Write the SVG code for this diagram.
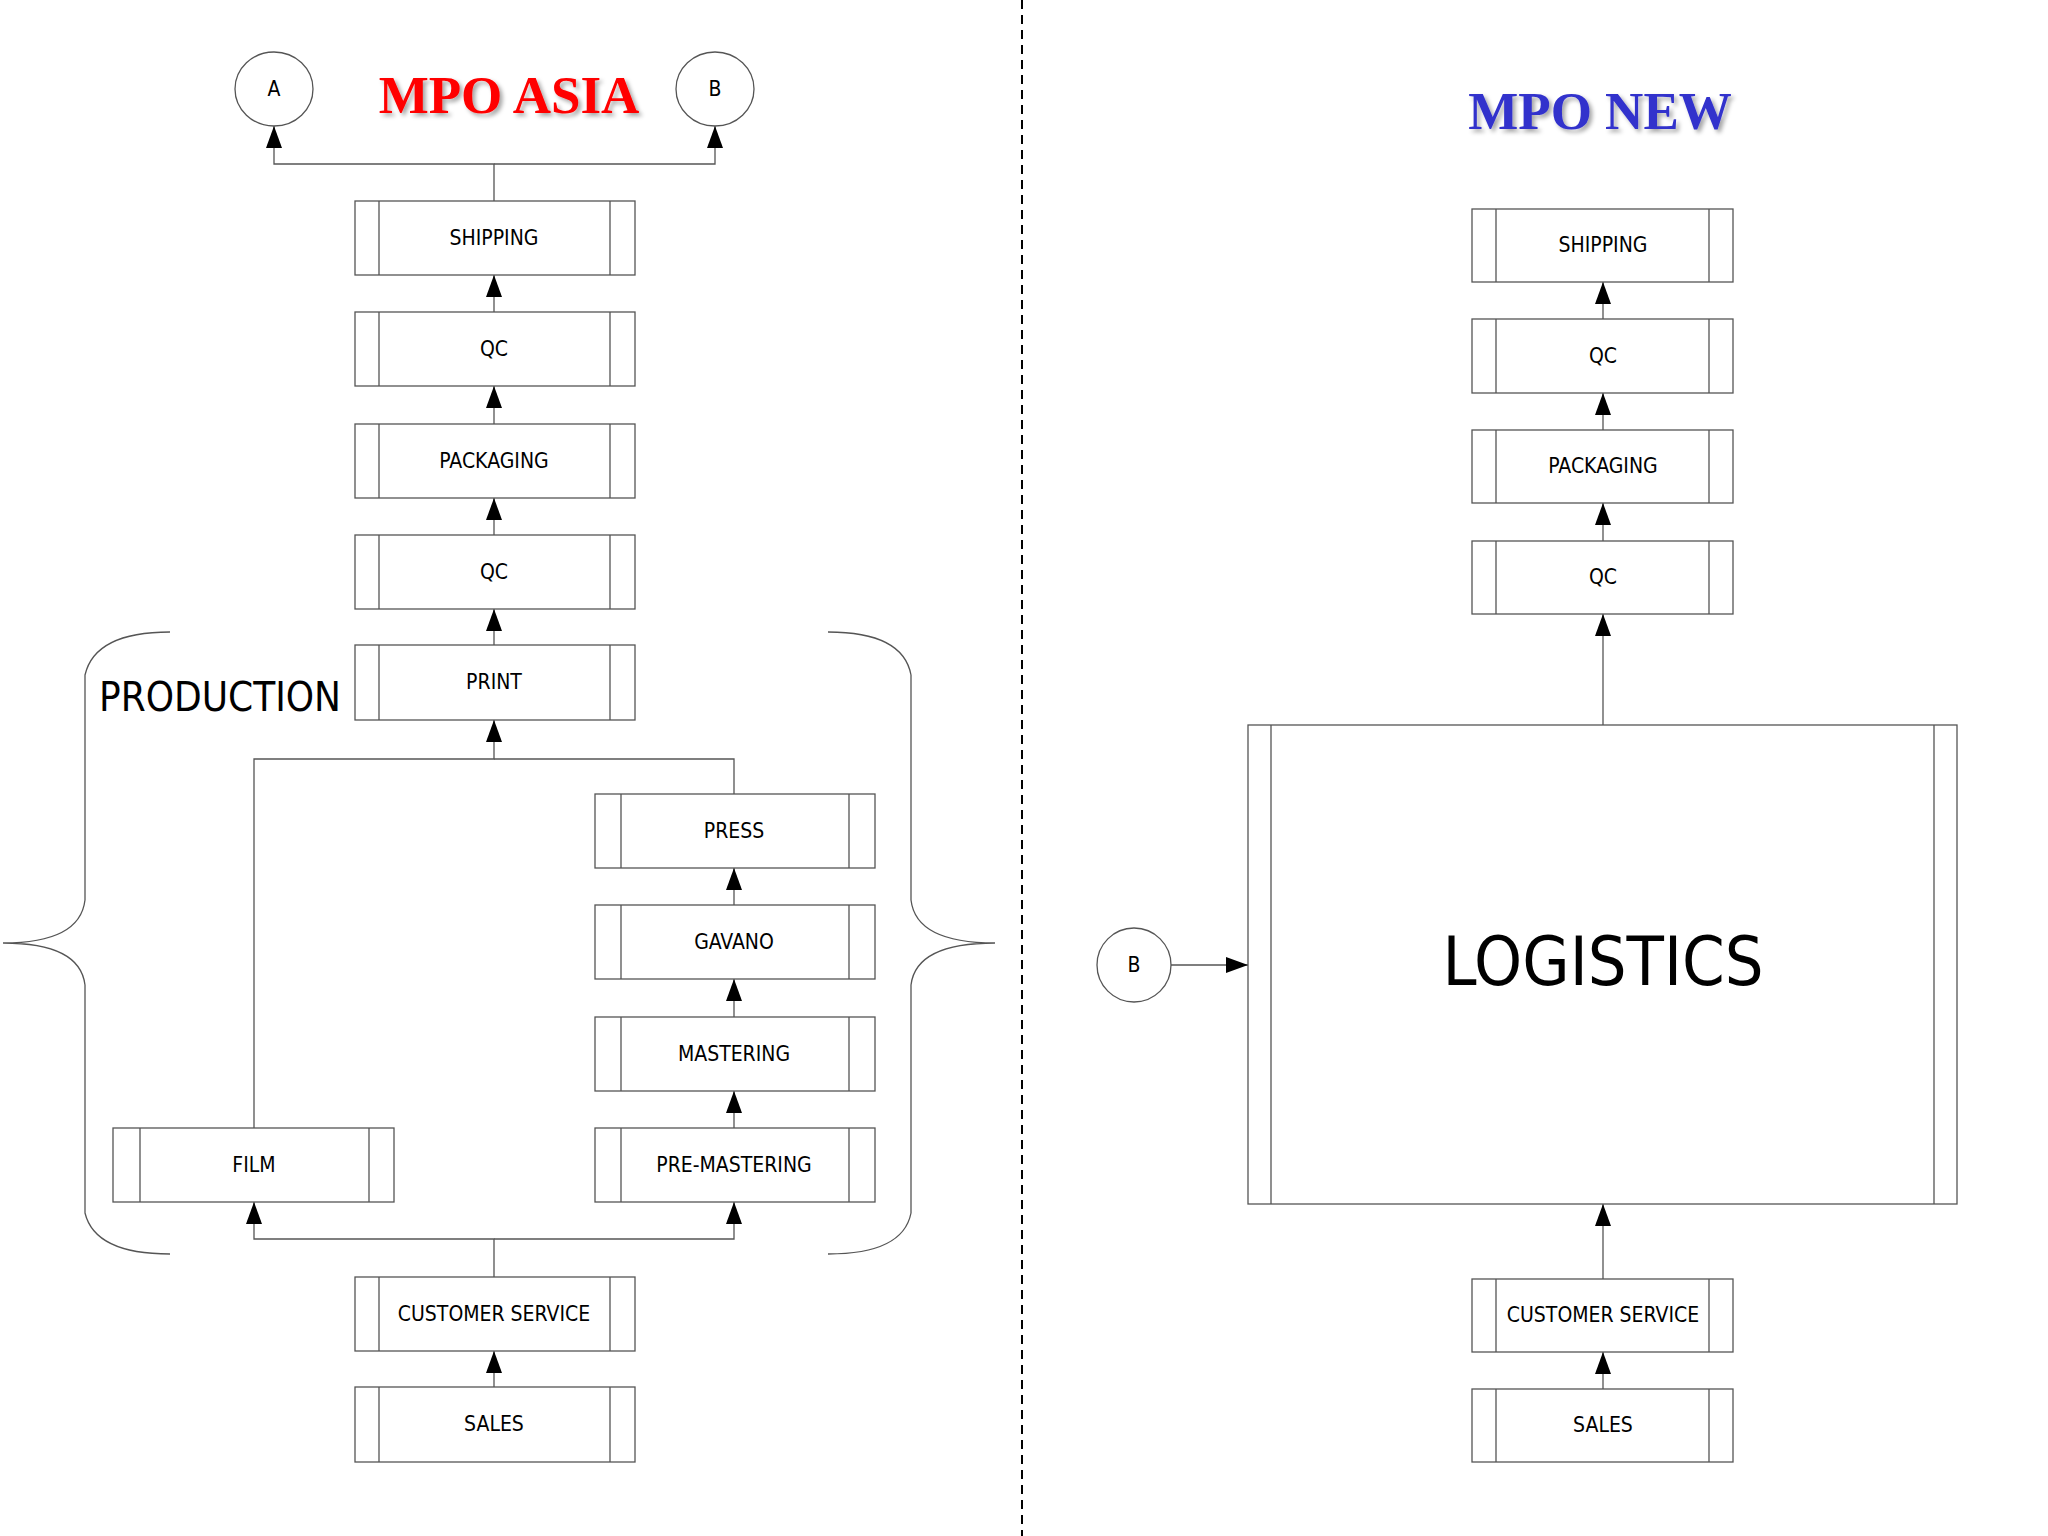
<svg xmlns="http://www.w3.org/2000/svg" width="2048" height="1536" viewBox="0 0 2048 1536">
<style>
.b{fill:#fff;stroke:#555;stroke-width:1.3}
.i{stroke:#555;stroke-width:1.3}
.t{font-family:"DejaVu Sans Condensed","Liberation Sans",sans-serif;font-size:21px;text-anchor:middle;fill:#000}
.c{fill:none;stroke:#555;stroke-width:1.3}
.title{font-family:"Liberation Serif",serif;font-weight:bold;font-size:53px;text-anchor:middle}
</style>
<defs>
<marker id="ar" markerWidth="22" markerHeight="16" refX="22" refY="8" orient="auto" markerUnits="userSpaceOnUse" viewBox="0 0 22 16">
<path d="M0,0 L22,8 L0,16 Z" fill="#000"/></marker>
<filter id="sh" x="-10%" y="-20%" width="130%" height="150%"><feDropShadow dx="3" dy="3" stdDeviation="2" flood-color="#000" flood-opacity="0.35"/></filter>
</defs>
<rect width="2048" height="1536" fill="#fff"/>
<line x1="1022" y1="0" x2="1022" y2="1536" stroke="#000" stroke-width="2" stroke-dasharray="9,6"/>
<text class="title" x="509" y="113" fill="#ff0000" filter="url(#sh)">MPO ASIA</text>
<text class="title" x="1600" y="129" fill="#3333cc" filter="url(#sh)">MPO NEW</text>
<text x="99" y="711" font-family="DejaVu Sans Condensed,Liberation Sans,sans-serif" font-size="40">PRODUCTION</text>
<g id="braces" class="c">
<path d="M170,632 Q95,632 85,675 L85,900 Q80,943 3,943 Q80,943 85,985 L85,1213 Q95,1254 170,1254"/>
<path d="M828,632 Q903,632 911,675 L911,900 Q916,943 995,943 Q916,943 911,985 L911,1213 Q903,1254 828,1254"/>
</g>
<g id="connectors" class="c">
<path d="M494,201 V164 H274 V126" marker-end="url(#ar)"/>
<path d="M494,164 H715 V126" marker-end="url(#ar)"/>
<path d="M494,312 V275" marker-end="url(#ar)"/>
<path d="M494,424 V386" marker-end="url(#ar)"/>
<path d="M494,535 V498" marker-end="url(#ar)"/>
<path d="M494,645 V609" marker-end="url(#ar)"/>
<path d="M254,1128 V759 H494 V720" marker-end="url(#ar)"/>
<path d="M734,794 V759 H494"/>
<path d="M734,905 V868" marker-end="url(#ar)"/>
<path d="M734,1017 V979" marker-end="url(#ar)"/>
<path d="M734,1128 V1091" marker-end="url(#ar)"/>
<path d="M494,1277 V1239 H254 V1202" marker-end="url(#ar)"/>
<path d="M494,1239 H734 V1202" marker-end="url(#ar)"/>
<path d="M494,1387 V1351" marker-end="url(#ar)"/>
<path d="M1603,319 V282" marker-end="url(#ar)"/>
<path d="M1603,430 V393" marker-end="url(#ar)"/>
<path d="M1603,541 V503" marker-end="url(#ar)"/>
<path d="M1603,725 V614" marker-end="url(#ar)"/>
<path d="M1603,1279 V1204" marker-end="url(#ar)"/>
<path d="M1603,1389 V1352" marker-end="url(#ar)"/>
<path d="M1171,965 H1248" marker-end="url(#ar)"/>
</g>
<g id="A"><ellipse class="b" cx="274" cy="89" rx="39" ry="37"/><text class="t" x="274" y="96">A</text></g>
<g id="B1"><ellipse class="b" cx="715" cy="89" rx="39" ry="37"/><text class="t" x="715" y="96">B</text></g>
<g id="B2"><ellipse class="b" cx="1134" cy="965" rx="37" ry="37"/><text class="t" x="1134" y="972">B</text></g>
<g id="shipping1"><rect class="b" x="355" y="201" width="280" height="74"/><path class="i" d="M379,201V275M610,201V275"/><text class="t" x="494" y="245">SHIPPING</text></g>
<g id="qc1a"><rect class="b" x="355" y="312" width="280" height="74"/><path class="i" d="M379,312V386M610,312V386"/><text class="t" x="494" y="356">QC</text></g>
<g id="packaging1"><rect class="b" x="355" y="424" width="280" height="74"/><path class="i" d="M379,424V498M610,424V498"/><text class="t" x="494" y="468">PACKAGING</text></g>
<g id="qc1b"><rect class="b" x="355" y="535" width="280" height="74"/><path class="i" d="M379,535V609M610,535V609"/><text class="t" x="494" y="579">QC</text></g>
<g id="print"><rect class="b" x="355" y="645" width="280" height="75"/><path class="i" d="M379,645V720M610,645V720"/><text class="t" x="494" y="689">PRINT</text></g>
<g id="press"><rect class="b" x="595" y="794" width="280" height="74"/><path class="i" d="M621,794V868M849,794V868"/><text class="t" x="734" y="838">PRESS</text></g>
<g id="gavano"><rect class="b" x="595" y="905" width="280" height="74"/><path class="i" d="M621,905V979M849,905V979"/><text class="t" x="734" y="949">GAVANO</text></g>
<g id="mastering"><rect class="b" x="595" y="1017" width="280" height="74"/><path class="i" d="M621,1017V1091M849,1017V1091"/><text class="t" x="734" y="1061">MASTERING</text></g>
<g id="premastering"><rect class="b" x="595" y="1128" width="280" height="74"/><path class="i" d="M621,1128V1202M849,1128V1202"/><text class="t" x="734" y="1172">PRE-MASTERING</text></g>
<g id="film"><rect class="b" x="113" y="1128" width="281" height="74"/><path class="i" d="M140,1128V1202M369,1128V1202"/><text class="t" x="254" y="1172">FILM</text></g>
<g id="cs1"><rect class="b" x="355" y="1277" width="280" height="74"/><path class="i" d="M379,1277V1351M610,1277V1351"/><text class="t" x="494" y="1321">CUSTOMER SERVICE</text></g>
<g id="sales1"><rect class="b" x="355" y="1387" width="280" height="75"/><path class="i" d="M379,1387V1462M610,1387V1462"/><text class="t" x="494" y="1431">SALES</text></g>
<g id="shipping2"><rect class="b" x="1472" y="209" width="261" height="73"/><path class="i" d="M1496,209V282M1709,209V282"/><text class="t" x="1603" y="252">SHIPPING</text></g>
<g id="qc2a"><rect class="b" x="1472" y="319" width="261" height="74"/><path class="i" d="M1496,319V393M1709,319V393"/><text class="t" x="1603" y="363">QC</text></g>
<g id="packaging2"><rect class="b" x="1472" y="430" width="261" height="73"/><path class="i" d="M1496,430V503M1709,430V503"/><text class="t" x="1603" y="473">PACKAGING</text></g>
<g id="qc2b"><rect class="b" x="1472" y="541" width="261" height="73"/><path class="i" d="M1496,541V614M1709,541V614"/><text class="t" x="1603" y="584">QC</text></g>
<g id="logistics"><rect class="b" x="1248" y="725" width="709" height="479"/><path class="i" d="M1271,725V1204M1934,725V1204"/><text x="1603" y="985" text-anchor="middle" font-family="DejaVu Sans Condensed,Liberation Sans,sans-serif" font-size="68">LOGISTICS</text></g>
<g id="cs2"><rect class="b" x="1472" y="1279" width="261" height="73"/><path class="i" d="M1496,1279V1352M1709,1279V1352"/><text class="t" x="1603" y="1322">CUSTOMER SERVICE</text></g>
<g id="sales2"><rect class="b" x="1472" y="1389" width="261" height="73"/><path class="i" d="M1496,1389V1462M1709,1389V1462"/><text class="t" x="1603" y="1432">SALES</text></g>
</svg>
